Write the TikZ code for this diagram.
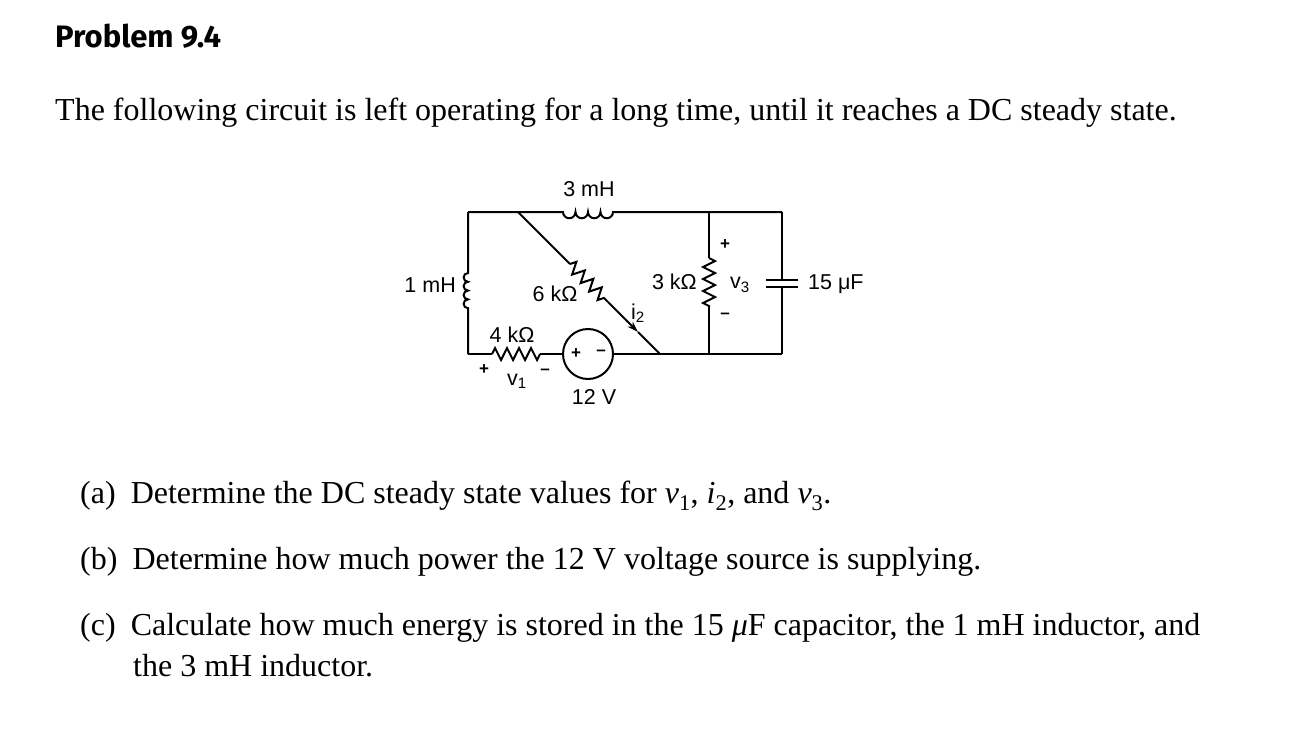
\documentclass[tikz,border=0pt]{standalone}
\usepackage{fontspec}
\setmainfont{Liberation Serif}
\newfontfamily\lsans{Liberation Sans}
\newfontfamily\fira{Fira Sans}
\usetikzlibrary{decorations.pathmorphing,arrows.meta}
\newcommand{\mv}[2]{\textit{#1}\textsubscript{#2}}
\begin{document}
\begin{tikzpicture}[x=1pt,y=-1pt,
  wire/.style={line width=2pt},
  lab/.style={font=\lsans\fontsize{21.5}{24}\selectfont,inner sep=0pt},
  pm/.style={inner sep=0pt,font=\lsans\bfseries\fontsize{17}{19}\selectfont},
  txt/.style={font=\fontsize{32}{36}\selectfont,inner sep=0pt,anchor=west},
  zz/.style={wire,decorate,decoration={zigzag,segment length=12pt,amplitude=6pt}}]
\useasboundingbox (0,0) rectangle (1313,741);
\node[anchor=west,inner sep=0pt,font=\fira\bfseries\fontsize{31}{34}\selectfont] (title) at (55,36) {Problem 9.4};
\node[txt] (intro) at (55,113) {The following circuit is left operating for a long time, until it reaches a DC steady state.};
\coordinate (tl) at (468,212); \coordinate (tr) at (782,212);
\coordinate (bl) at (468,354); \coordinate (br) at (782,354);
\coordinate (dtop) at (518,212); \coordinate (dbot) at (660,354);
\coordinate (r6a) at (570,264); \coordinate (r6b) at (608,302);
\coordinate (m3) at (709,212); \coordinate (m3b) at (709,354);
\draw[wire] (tl) -- (563,212) arc(180:0:6.25) arc(180:0:6.25) arc(180:0:6.25) arc(180:0:6.25) -- (tr);
\draw[wire] (tl) -- (468,273) arc(-90:-270:4.4) arc(-90:-270:4.4) arc(-90:-270:4.4) arc(-90:-270:4.4) -- (bl);
\draw[wire] (bl) -- (492,354);
\draw[zz] (492,354) -- (540,354);
\draw[wire] (540,354) -- (563,354);
\node[circle,draw,line width=2pt,minimum size=50pt,inner sep=0pt] (src) at (588,354) {};
\draw[wire] (src.east) -- (br);
\node[pm] at (576,354) {+};
\node[pm] at (601,353) {–};
\draw[wire] (dtop) -- (r6a);
\draw[zz] (r6a) -- (r6b);
\draw[wire,-{Stealth[length=11pt,width=7pt]}] (r6b) -- (638,332);
\draw[wire] (638,332) -- (dbot);
\draw[wire] (m3) -- (709,258);
\draw[zz] (709,258) -- (709,307);
\draw[wire] (709,307) -- (m3b);
\draw[wire] (tr) -- (782,280); \draw[wire] (766,280) -- (798,280);
\draw[wire] (766,287) -- (798,287); \draw[wire] (782,287) -- (br);
\node[lab] (l3mh) at (589,189) {3 mH};
\node[lab,anchor=east] (l1mh) at (456,285) {1 mH};
\node[lab] (l6k) at (555,294) {6 kΩ};
\node[lab,anchor=east] (l3k) at (697,282) {3 kΩ};
\node[lab] (l4k) at (512,335) {4 kΩ};
\node[lab,anchor=west] (l15) at (808,284) {15 μF};
\node[lab] (lv3) at (740,285) {v\textsubscript{3}};
\node[pm] at (725,245) {+};
\node[pm] at (725,316) {–};
\node[lab] (li2) at (638,313) {i\textsubscript{2}};
\node[pm] at (484,370) {+};
\node[lab] (lv1) at (517,381) {v\textsubscript{1}};
\node[pm] at (545,372) {–};
\node[lab] (l12) at (594,397) {12 V};
\node[txt] (qa) at (80,496) {(a)\hspace{0.22em} Determine the DC steady state values for \mv{v}{1}, \mv{i}{2}, and \mv{v}{3}.};
\node[txt] (qb) at (80,562) {(b)\hspace{0.22em} Determine how much power the 12 V voltage source is supplying.};
\node[txt] (qc) at (80,628) {(c)\hspace{0.22em} Calculate how much energy is stored in the 15 \textit{μ}F capacitor, the 1 mH inductor, and};
\node[txt] (qc2) at (133,666) {the 3 mH inductor.};
\end{tikzpicture}
\end{document}
